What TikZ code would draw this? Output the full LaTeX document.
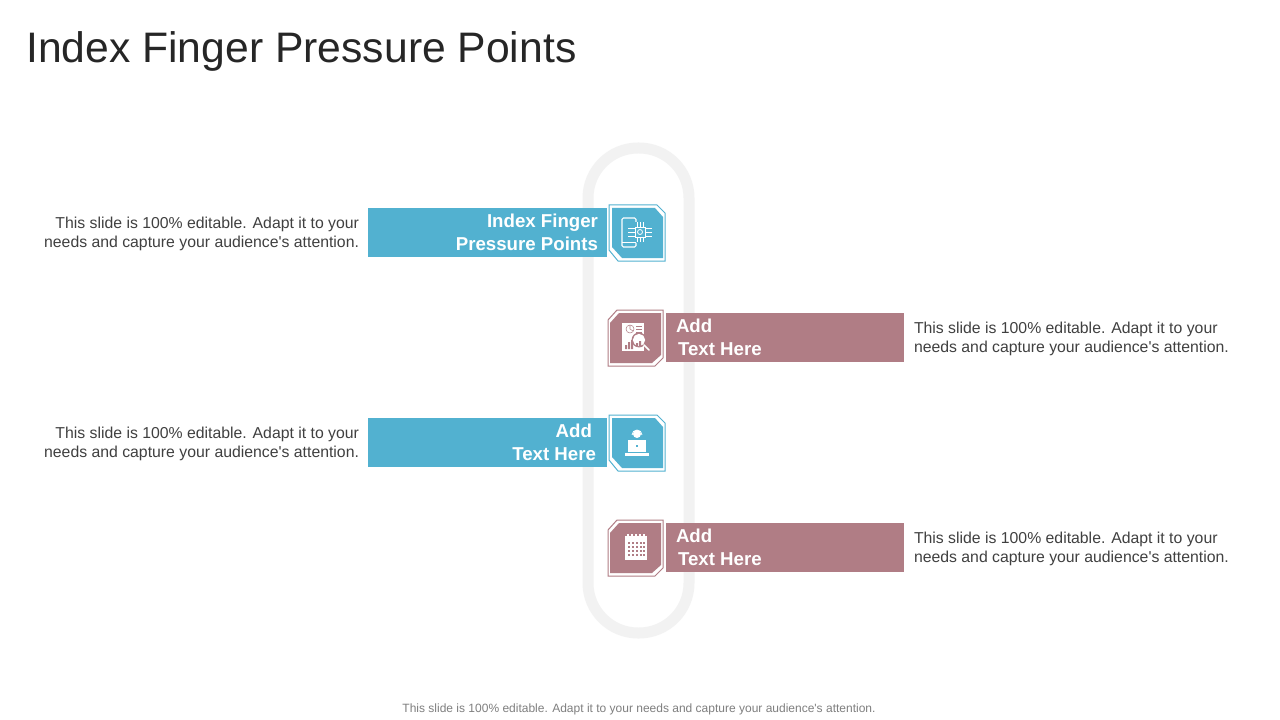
\documentclass[tikz,border=0pt]{standalone}
\usepackage{fontspec}
\setmainfont{Liberation Sans}
\newfontfamily\plainfont{Liberation Sans}
\definecolor{tileblue}{HTML}{52B1D0}
\definecolor{tilerose}{HTML}{B07D85}
\definecolor{ringgrey}{HTML}{F2F2F2}
\definecolor{titleink}{HTML}{262626}
\definecolor{bodyink}{HTML}{404040}
\definecolor{footink}{HTML}{7F7F7F}
\newcommand{\bluetile}[1]{%
  \draw[color=tileblue,line width=0.75pt,fill=white] (609,#1-28) -- (657,#1-28) -- (665,#1-20) -- (665,#1+28) -- (618,#1+28) -- (609,#1+17) -- cycle;
  \fill[tileblue] (612,#1-25) -- (655,#1-25) -- (663,#1-16) -- (663,#1+25) -- (622,#1+25) -- (612,#1+14) -- cycle;
}
\newcommand{\rosetile}[1]{%
  \draw[color=tilerose,line width=0.75pt,fill=white] (617,#1-28) -- (663,#1-28) -- (663,#1+20) -- (655,#1+28) -- (608,#1+28) -- (608,#1-18) -- cycle;
  \fill[tilerose] (619,#1-25) -- (661,#1-25) -- (661,#1+17) -- (652,#1+25) -- (610,#1+25) -- (610,#1-15) -- cycle;
}
\tikzset{
  x=0.75pt,y=-0.75pt,
  ring/.style={draw=ringgrey,line width=8.25pt,rounded corners=37.5pt},
  barblue/.style={fill=tileblue,minimum width=179.25pt,minimum height=36.75pt,inner sep=0pt,outer sep=0pt},
  barrose/.style={fill=tilerose,minimum width=178.5pt,minimum height=36.75pt,inner sep=0pt,outer sep=0pt},
  barlabel/.style={text=white,font=\fontsize{14}{17}\selectfont\bfseries,inner sep=0pt,outer sep=0pt},
  desc/.style={text=bodyink,font=\plainfont\fontsize{11.85}{14.25}\selectfont,inner sep=0pt,outer sep=0pt},
  icon/.style={draw=white,line width=0.8pt,fill=none},
}
\begin{document}
\begin{tikzpicture}
\useasboundingbox[fill=white] (0,0) rectangle (1280,720);
\node[anchor=base west,text=titleink,font=\fontsize{32}{38}\selectfont,inner sep=0pt] (title) at (26,63) {Index Finger Pressure Points};
\draw[ring] (588,148) rectangle (689,633);

% bars
\node[barblue] (bar1) at (487.5,232.5) {};
\node[barrose] (bar2) at (785,337.5) {};
\node[barblue] (bar3) at (487.5,442.5) {};
\node[barrose] (bar4) at (785,547.5) {};

\node[barlabel,anchor=east,align=right] (lab1) at (598,232.5) {Index Finger\\Pressure Points};
\node[barlabel,anchor=west,align=left] (lab2) at (676,337.5) {Add\\\hspace{1.5pt}Text Here};
\node[barlabel,anchor=east,align=right] (lab3) at (596,442.5) {Add\hspace{3pt}\mbox{}\\Text Here};
\node[barlabel,anchor=west,align=left] (lab4) at (676,547.5) {Add\\\hspace{1.5pt}Text Here};

% descriptions
\node[desc,anchor=east,align=right] (d1) at (359,233.5) {This slide is 100\% editable. Adapt it to your\\needs and capture your audience's attention.};
\node[desc,anchor=west,align=left] (d2) at (914,338.5) {This slide is 100\% editable. Adapt it to your\\needs and capture your audience's attention.};
\node[desc,anchor=east,align=right] (d3) at (359,443.5) {This slide is 100\% editable. Adapt it to your\\needs and capture your audience's attention.};
\node[desc,anchor=west,align=left] (d4) at (914,548.5) {This slide is 100\% editable. Adapt it to your\\needs and capture your audience's attention.};

% tiles
\bluetile{233}
\rosetile{338}
\bluetile{443}
\rosetile{548}

% icon 1: phone and chip
\draw[icon,rounded corners=1pt] (636,222) -- (636,218) -- (622,218) -- (622,247) -- (636,247) -- (636,243);
\draw[icon,line width=0.5pt] (622,242) -- (636,242);
\draw[icon,line width=0.6pt] (635,227) rectangle (645,237);
\draw[icon,line width=0.6pt] (640,232) circle (2.5);
\foreach \yy in {228,232,236}{
  \draw[icon,line width=0.4pt] (645,\yy) -- (652,\yy);
  \draw[icon,line width=0.4pt] (628,\yy) -- (635,\yy);
}
\foreach \xx in {637,640,643}{
  \draw[icon,line width=0.4pt] (\xx,227) -- (\xx,222);
  \draw[icon,line width=0.4pt] (\xx,237) -- (\xx,242);
}

% icon 2: report and magnifier
\fill[white] (622,323) rectangle (644,351);
\draw[draw=tilerose,line width=0.4pt] (630,329) circle (4);
\draw[draw=tilerose,line width=0.4pt] (630,329) -- (630,325) (630,329) -- (633,331);
\foreach \yy in {326,329,332}{ \draw[draw=tilerose,line width=0.4pt] (636,\yy) -- (642,\yy); }
\fill[tilerose] (625,345) rectangle (627,349) (628,342) rectangle (630,349) (631,340) rectangle (633,349);
\draw[draw=tilerose,fill=white,line width=1.4pt] (639,340) circle (6.5);
\draw[icon,line width=0.9pt] (639,340) circle (5.5);
\draw[draw=white,line width=1.2pt,line cap=round] (644,345) -- (649,350);
\fill[tilerose] (636,343) rectangle (638,346) (639,341) rectangle (641,346);

% icon 3: person at laptop
\fill[white] (637,434) circle (4);
\draw[icon,line width=0.6pt] (632,435) arc (180:360:5);
\fill[white] (628,440) rectangle (646,452);
\fill[white] (625,453) rectangle (649,456);
\fill[tileblue] (636,445) rectangle (638,447);

% icon 4: calendar
\fill[white] (625,536) rectangle (647,560);
\foreach \xx in {628,632,636,640,644}{ \fill[white] (\xx-0.7,534) rectangle (\xx+0.7,538); }
\foreach \cx in {627.5,631.5,635.5,639.5,643}{
  \foreach \cy in {542,546,550,554}{
    \fill[tilerose] (\cx,\cy) rectangle ++(2.4,2.4);
  }
}

\node[anchor=base,text=footink,font=\plainfont\fontsize{9}{11}\selectfont,inner sep=0pt] (foot) at (639,712) {This slide is 100\% editable. Adapt it to your needs and capture your audience's attention.};
\end{tikzpicture}
\end{document}
